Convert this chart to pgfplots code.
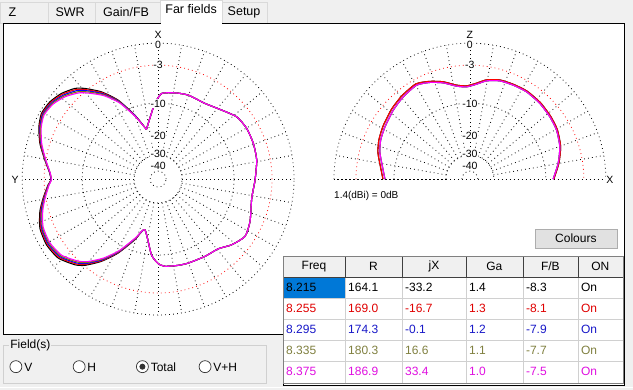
\documentclass[border=0pt]{standalone}
\usepackage{pgfplots}
\pgfplotsset{compat=1.18}
\usepackage{fontspec}
\setmainfont{Liberation Sans}
\definecolor{bg}{HTML}{F0F0F0}
\definecolor{tabb}{HTML}{D9D9D9}
\definecolor{selblue}{HTML}{0078D7}
\definecolor{cRed}{HTML}{FF0000}
\definecolor{cBlue}{HTML}{0000FF}
\definecolor{cOlive}{HTML}{808000}
\definecolor{cMag}{HTML}{FF00FF}
\definecolor{tRed}{HTML}{E00000}
\definecolor{tBlue}{HTML}{1818C8}
\definecolor{tOlive}{HTML}{808040}
\definecolor{tMag}{HTML}{E010E0}
\definecolor{btn}{HTML}{E1E1E1}
\definecolor{btnb}{HTML}{ADADAD}
\definecolor{tgrid}{HTML}{D0D0D0}
\newcommand\ft[1]{\fontsize{#1}{#1}\selectfont}
\pgfplotsset{crv/.style={line width=1.1pt, smooth, tension=0.35, mark=none}}
\begin{document}
\begin{tikzpicture}
\begin{scope}[x=1pt,y=-1pt,
  gd/.style={line width=0.8pt, dash pattern=on 0.8pt off 3.2pt, black},
  gr/.style={line width=0.8pt, dash pattern=on 0.8pt off 3.2pt, red}]
% background
\fill[bg] (0,0) rectangle (633,390);
% tabs
\foreach \a/\b in {0/48,48/95,95/160,222/267}{\draw[tabb, fill=bg] (\a,2) rectangle (\b,23);}
\node[anchor=west, font=\ft{12.5}] at (5,12) {Z};
\node[font=\ft{12.5}] at (70,12) {SWR};
\node[font=\ft{12.5}] at (126,12) {Gain/FB};
\node[font=\ft{12.5}] at (244,12) {Setup};
% white panel
\filldraw[fill=white, draw=black, line width=0.8pt] (3,23) -- (625,23) -- (625,385) -- (283,385) -- (283,334) -- (3,334) -- cycle;
\fill[white] (160.4,0) rectangle (221.6,23.5);
\draw[tabb] (160,23) -- (160,0) -- (222,0) -- (222,23);
\node[font=\ft{12.5}] at (191,9) {Far fields};
% ---- left polar grid
\begin{scope}[shift={(158,179)}]
\foreach \r in {136,76,24,8}{\draw[gd] (0,0) circle[radius=\r pt];}
\draw[gr] (0,0) circle[radius=114pt];
\foreach \a in {0,10,...,350}{\draw[gd] (\a:24pt) -- (\a:136pt);}
\end{scope}
% ---- right polar grid
\begin{scope}[shift={(470,179)}]
\foreach \r in {136,76,24,8}{\draw[gd] (-\r,0) arc[start angle=180, end angle=0, radius=\r pt];}
\draw[gr] (-114,0) arc[start angle=180, end angle=0, radius=114pt];
\foreach \a in {0,10,...,180}{\draw[gd] (\a:24pt) -- (\a:136pt);}
\draw[gd] (-136,0) -- (136,0);
\end{scope}
\end{scope}
% ---- azimuth pattern
\begin{axis}[at={(158pt,-179pt)}, anchor=origin, scale only axis, width=272pt, height=272pt,
  xmin=-136, xmax=136, ymin=-136, ymax=136, hide axis, clip=false]
\addplot[crv, black] coordinates {(-11.7,49.7) (-23.3,64) (-40,79) (-56.7,87.3) (-73.3,90.7) (-83.3,90.7) (-96.7,85.7) (-108.3,77.3) (-116.7,65.7) (-119.3,52.3) (-118.3,35.7) (-113.3,19) (-108.3,5.7) (-107.3,-1) (-110,-5.7) (-115,-19) (-118.3,-32.3) (-118.3,-49) (-111.7,-65.7) (-100,-79) (-83.3,-85.7) (-73.3,-86.3) (-56.7,-82.3) (-40,-74) (-23.3,-60.7) (-13.3,-50.7)
 (-6.7,-75.7) (0,-84.5) (7,-87.3) (20.3,-86.3) (30.3,-84) (47,-77.3) (60.3,-69.7) (73.7,-65.7) (87,-57.3) (92,-42.3) (93.7,-19) (97,-1) (98.7,19) (95.3,35.7) (88.7,50.7) (78.7,62.3) (63.7,69) (47,75.7) (30.3,84) (17,86.3) (3.7,85.7) (-3.3,75.7) (-8.3,60.7) (-11.7,49.7)};
\addplot[crv, cRed] coordinates {(-11.7,49.7) (-23.2,63.6) (-39.7,78.3) (-56.1,86.4) (-72.4,89.5) (-82.3,89.6) (-95.8,84.9) (-107.5,76.7) (-116.0,65.3) (-118.7,52.0) (-117.8,35.6) (-113.1,19.0) (-108.2,5.7) (-107.2,-1.0) (-109.8,-5.7) (-114.5,-18.9) (-117.6,-32.1) (-117.5,-48.7) (-110.8,-65.2) (-99.1,-78.3) (-82.4,-84.8) (-72.5,-85.3) (-56.1,-81.5) (-39.6,-73.3) (-23.1,-60.2) (-13.3,-50.7)
 (-6.7,-75.7) (0,-84.5) (7,-87.3) (20.3,-86.3) (30.3,-84) (47,-77.3) (60.3,-69.7) (73.7,-65.7) (87,-57.3) (92,-42.3) (93.7,-19) (97,-1) (98.7,19) (95.3,35.7) (88.7,50.7) (78.7,62.3) (63.7,69) (47,75.7) (30.3,84) (17,86.3) (3.7,85.7) (-3.3,75.7) (-8.3,60.7) (-11.7,49.7)};
\addplot[crv, cBlue] coordinates {(-11.7,49.7) (-23.0,63.3) (-39.3,77.7) (-55.5,85.4) (-71.4,88.4) (-81.3,88.5) (-94.8,84.0) (-106.7,76.1) (-115.4,65.0) (-118.2,51.8) (-117.3,35.4) (-112.8,18.9) (-108.1,5.7) (-107.1,-1.0) (-109.5,-5.7) (-114.0,-18.8) (-116.9,-31.9) (-116.7,-48.3) (-110.0,-64.7) (-98.2,-77.6) (-81.6,-83.9) (-71.7,-84.4) (-55.6,-80.7) (-39.3,-72.7) (-22.9,-59.8) (-13.3,-50.7)
 (-6.7,-75.7) (0,-84.5) (7,-87.3) (20.3,-86.3) (30.3,-84) (47,-77.3) (60.3,-69.7) (73.7,-65.7) (87,-57.3) (92,-42.3) (93.7,-19) (97,-1) (98.7,19) (95.3,35.7) (88.7,50.7) (78.7,62.3) (63.7,69) (47,75.7) (30.3,84) (17,86.3) (3.7,85.7) (-3.3,75.7) (-8.3,60.7) (-11.7,49.7)};
\addplot[crv, cOlive] coordinates {(-11.7,49.7) (-22.9,62.9) (-39.0,77.0) (-54.9,84.5) (-70.5,87.2) (-80.3,87.4) (-93.9,83.2) (-105.9,75.6) (-114.7,64.6) (-117.6,51.5) (-116.9,35.3) (-112.6,18.9) (-107.9,5.7) (-106.9,-1.0) (-109.3,-5.7) (-113.5,-18.8) (-116.1,-31.7) (-115.9,-48.0) (-109.1,-64.2) (-97.4,-76.9) (-80.7,-83.0) (-70.9,-83.4) (-55.0,-79.8) (-38.9,-72.0) (-22.8,-59.3) (-13.3,-50.7)
 (-6.7,-75.7) (0,-84.5) (7,-87.3) (20.3,-86.3) (30.3,-84) (47,-77.3) (60.3,-69.7) (73.7,-65.7) (87,-57.3) (92,-42.3) (93.7,-19) (97,-1) (98.7,19) (95.3,35.7) (88.7,50.7) (78.7,62.3) (63.7,69) (47,75.7) (30.3,84) (17,86.3) (3.7,85.7) (-3.3,75.7) (-8.3,60.7) (-11.7,49.7)};
\addplot[crv, cMag] coordinates {(-11.7,49.7) (-22.8,62.6) (-38.6,76.3) (-54.2,83.5) (-69.5,86.0) (-79.2,86.3) (-93.0,82.4) (-105.1,75.0) (-114.1,64.2) (-117.0,51.3) (-116.4,35.1) (-112.3,18.8) (-107.8,5.7) (-106.8,-1.0) (-109.0,-5.6) (-113.0,-18.7) (-115.4,-31.5) (-115.1,-47.7) (-108.3,-63.7) (-96.5,-76.2) (-79.8,-82.1) (-70.1,-82.5) (-54.4,-79.0) (-38.6,-71.4) (-22.6,-58.8) (-13.3,-50.7)
 (-6.7,-75.7) (0,-84.5) (7,-87.3) (20.3,-86.3) (30.3,-84) (47,-77.3) (60.3,-69.7) (73.7,-65.7) (87,-57.3) (92,-42.3) (93.7,-19) (97,-1) (98.7,19) (95.3,35.7) (88.7,50.7) (78.7,62.3) (63.7,69) (47,75.7) (30.3,84) (17,86.3) (3.7,85.7) (-3.3,75.7) (-8.3,60.7) (-11.7,49.7)};
\end{axis}
% ---- elevation pattern
\begin{axis}[at={(470pt,-179pt)}, anchor=origin, scale only axis, width=272pt, height=136pt,
  xmin=-136, xmax=136, ymin=0, ymax=136, hide axis, clip=false]
\addplot[crv, black] coordinates {(-87,0) (-92,26) (-91,39.5) (-86.8,53.3) (-78.2,70.3) (-67.8,83.6) (-54,95.3) (-40.3,97.8) (-26.8,97.4) (-13.3,94) (-3.3,93.3) (6.7,96) (16.7,99.3) (30,99.2) (43.6,94.8) (57.2,88) (70.7,76.3) (80.8,62.8) (87.5,49.4) (90.8,32.5) (89,15.8) (84,0)};
\addplot[crv, cRed] coordinates {(-87,0) (-92,26) (-91,39.5) (-86.8,53.3) (-78.2,70.3) (-67.8,83.6) (-54,95.3) (-40.3,97.8) (-26.8,97.4) (-13.3,94) (-3.3,93.3) (6.7,96) (16.7,99.3) (30,99.2) (43.6,94.8) (57.2,88) (70.7,76.3) (80.8,62.8) (87.5,49.4) (90.8,32.5) (89,15.8) (84,0)};
\addplot[crv, cBlue] coordinates {(-85,0) (-90,25.7) (-89.3,39) (-85,52.3) (-76.7,69) (-66.7,82.3) (-53.3,94) (-40,96.7) (-26.7,96.3) (-13.3,93) (-3.3,92.3) (6.7,95) (16.7,98.3) (30,98.3) (43.3,94) (56.7,87.3) (70,75.7) (80,62.3) (86.7,49) (90,32.3) (88.3,15.7) (83.3,0)};
\addplot[crv, cOlive] coordinates {(-85,0) (-90,25.7) (-89.3,39) (-85,52.3) (-76.7,69) (-66.7,82.3) (-53.3,94) (-40,96.7) (-26.7,96.3) (-13.3,93) (-3.3,92.3) (6.7,95) (16.7,98.3) (30,98.3) (43.3,94) (56.7,87.3) (70,75.7) (80,62.3) (86.7,49) (90,32.3) (88.3,15.7) (83.3,0)};
\addplot[crv, cMag] coordinates {(-85,0) (-90,25.7) (-89.3,39) (-85,52.3) (-76.7,69) (-66.7,82.3) (-53.3,94) (-40,96.7) (-26.7,96.3) (-13.3,93) (-3.3,92.3) (6.7,95) (16.7,98.3) (30,98.3) (43.3,94) (56.7,87.3) (70,75.7) (80,62.3) (86.7,49) (90,32.3) (88.3,15.7) (83.3,0)};
\end{axis}
\begin{scope}[x=1pt,y=-1pt, lab/.style={font=\ft{10.5}, fill=white, inner sep=0.6pt}]
% ---- polar labels
\foreach \cx in {158,470}{
  \node[lab] at (\cx,44.5) {0};
  \node[lab] at (\cx,65) {-3};
  \node[lab] at (\cx,103.5) {-10};
  \node[lab] at (\cx,136) {-20};
  \node[lab] at (\cx,154) {-30};
  \node[lab] at (\cx,165.5) {-40};
}
\node[font=\ft{10.5}, inner sep=0pt] at (158,35) {X};
\node[font=\ft{10.5}, fill=white, inner sep=0.6pt] at (15,180) {Y};
\node[font=\ft{10.5}, inner sep=0pt] at (470,35) {Z};
\node[font=\ft{10.5}, fill=white, inner sep=0.6pt] at (610,180) {X};
\node[anchor=west, font=\ft{10}, inner sep=0pt] at (334,196) {1.4(dBi) = 0dB};
% ---- Colours button
\filldraw[fill=btn, draw=btnb] (535,229) rectangle (617,248);
\node[font=\ft{12}] at (576,238.5) {Colours};
% ---- table
\fill[bg] (283,256) rectangle (623,277);
\fill[white] (283,277) rectangle (623,383);
\fill[selblue] (283,277) rectangle (345,298);
\foreach \y in {298,319,340,361}{\draw[tgrid] (283,\y) -- (623,\y);}
\foreach \x in {345,402,466,523,578}{\draw[tgrid] (\x,277) -- (\x,383);}
\foreach \x in {345,402,466,523,578}{\draw[black!75] (\x,256) -- (\x,277);}
\draw[black!75] (283,277) -- (623,277);
\draw[gray] (283,256) rectangle (623,383);
\foreach \t/\x in {Freq/314,R/373.5,jX/434,Ga/494.5,F\slash B/550.5,ON/600.5}{\node[font=\ft{12}] at (\x,266.5) {\t};}
\begin{scope}[every node/.style={anchor=west, font=\ft{12}, inner sep=0pt}]
\node at (286,287.5) {8.215}; \node at (348,287.5) {164.1}; \node at (405,287.5) {-33.2}; \node at (469,287.5) {1.4}; \node at (526,287.5) {-8.3}; \node at (581,287.5) {On};
\node[tRed] at (286,308.5) {8.255}; \node[tRed] at (348,308.5) {169.0}; \node[tRed] at (405,308.5) {-16.7}; \node[tRed] at (469,308.5) {1.3}; \node[tRed] at (526,308.5) {-8.1}; \node[tRed] at (581,308.5) {On};
\node[tBlue] at (286,329.5) {8.295}; \node[tBlue] at (348,329.5) {174.3}; \node[tBlue] at (405,329.5) {-0.1}; \node[tBlue] at (469,329.5) {1.2}; \node[tBlue] at (526,329.5) {-7.9}; \node[tBlue] at (581,329.5) {On};
\node[tOlive] at (286,350.5) {8.335}; \node[tOlive] at (348,350.5) {180.3}; \node[tOlive] at (405,350.5) {16.6}; \node[tOlive] at (469,350.5) {1.1}; \node[tOlive] at (526,350.5) {-7.7}; \node[tOlive] at (581,350.5) {On};
\node[tMag] at (286,371.5) {8.375}; \node[tMag] at (348,371.5) {186.9}; \node[tMag] at (405,371.5) {33.4}; \node[tMag] at (469,371.5) {1.0}; \node[tMag] at (526,371.5) {-7.5}; \node[tMag] at (581,371.5) {On};
\end{scope}
% ---- Field(s) group box
\draw[tgrid] (3,345) rectangle (266,383);
\node[fill=bg, inner sep=1pt, font=\ft{12}, anchor=west] at (9,345) {Field(s)};
\foreach \cx in {15.7,79,142.3,205}{\filldraw[fill=white, draw=black!80, line width=0.7pt] (\cx,366.7) circle[radius=6pt];}
\fill[black!80] (142.3,366.7) circle[radius=3pt];
\begin{scope}[every node/.style={anchor=west, font=\ft{12}, inner sep=0pt}]
\node at (24,367) {V}; \node at (87,367) {H}; \node at (150.5,367) {Total}; \node at (213,367) {V+H};
\end{scope}
\draw[white] (0,387) -- (633,387);
\end{scope}
\end{tikzpicture}
\end{document}
